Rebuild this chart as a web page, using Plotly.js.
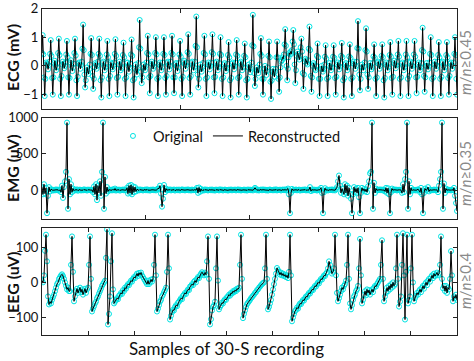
<!DOCTYPE html>
<html><head><meta charset="utf-8">
<script src="https://cdn.plot.ly/plotly-3.0.1.min.js"></script>
<style>html,body{margin:0;padding:0;background:#fff}#chart{width:474px;height:361px}</style>
</head><body><div id="chart"></div>
<script>
// ECG (mV) samples, original signal
const ecgOriginal = [
0.45,1.07,0.4,-0.4,-1.05,-0.45,0.12,0.08,
0.05,-0.12,0.02,0.15,0.42,0.9,0.35,-0.42,-1.0,-0.4,0.1,0.18,
0.02,-0.15,-0.05,0.1,0.45,0.95,0.38,-0.45,-1.05,-0.35,0.05,0.15,
0.08,-0.08,0.0,0.12,0.4,0.87,0.3,-0.4,-1.0,-0.42,0.12,0.2,
0.0,-0.18,-0.06,0.08,0.45,0.95,0.36,-0.5,-1.05,-0.38,0.08,0.12,
0.05,-0.1,0.03,0.15,0.6,1.44,0.55,-0.3,-0.75,-0.5,-0.15,-0.05,
-0.2,-0.28,-0.12,0.05,0.42,0.97,0.38,-0.35,-0.8,-0.45,-0.05,0.1,
0.05,-0.1,0.0,0.15,0.42,0.95,0.35,-0.5,-1.1,-0.4,0.1,0.15,
0.0,-0.15,-0.05,0.1,0.4,0.87,0.3,-0.45,-1.05,-0.35,0.12,0.08,
-0.05,-0.12,0.02,0.12,0.42,0.93,0.35,-0.42,-1.0,-0.38,0.05,0.15,
0.02,-0.15,-0.08,0.1,0.38,0.81,0.3,-0.45,-1.05,-0.4,0.1,0.12,
0.0,-0.2,-0.05,0.08,0.4,0.92,0.35,-0.5,-1.1,-0.45,-0.1,0.05,
-0.15,-0.3,-0.1,0.1,0.65,1.6,0.6,-0.2,-0.6,-0.4,-0.1,0.05,
-0.05,-0.15,0.0,0.12,0.45,1.05,0.4,-0.4,-0.95,-0.35,0.08,0.15,
0.05,-0.1,-0.02,0.1,0.45,1.0,0.4,-0.45,-1.05,-0.4,0.05,0.12,
0.0,-0.15,-0.05,0.12,0.42,1.0,0.38,-0.42,-1.0,-0.35,0.1,0.15,
0.02,-0.12,0.0,0.15,0.45,1.05,0.4,-0.4,-0.95,-0.4,0.05,0.1,
-0.02,-0.18,-0.05,0.1,0.4,0.87,0.32,-0.45,-1.05,-0.38,0.12,0.18,
0.05,-0.1,0.02,0.12,0.48,1.1,0.42,-0.42,-1.0,-0.35,0.1,0.15,
0.0,-0.15,-0.05,0.15,0.7,1.72,0.65,-0.3,-0.75,-0.45,-0.1,0.05,
-0.1,-0.2,-0.05,0.1,0.45,1.05,0.4,-0.45,-1.05,-0.4,0.05,0.12,
0.02,-0.12,0.0,0.12,0.48,1.1,0.42,-0.4,-0.95,-0.38,0.1,0.15,
0.0,-0.15,-0.05,0.1,0.42,1.0,0.38,-0.45,-1.05,-0.4,0.05,0.1,
-0.05,-0.18,-0.08,0.08,0.38,0.83,0.3,-0.5,-1.1,-0.42,0.08,0.12,
0.0,-0.12,0.0,0.12,0.4,0.9,0.35,-0.42,-1.0,-0.38,0.1,0.15,
0.02,-0.15,-0.05,0.1,0.35,0.78,0.3,-0.5,-1.1,-0.45,-0.05,0.05,
-0.1,-0.22,-0.08,0.12,0.72,1.78,0.68,-0.25,-0.7,-0.45,-0.15,-0.05,
-0.15,-0.25,-0.12,0.05,0.42,0.97,0.35,-0.45,-1.0,-0.45,-0.1,0.0,
-0.2,-0.32,-0.18,-0.05,0.35,0.85,0.3,-0.55,-1.15,-0.5,-0.2,-0.1,
-0.25,-0.38,-0.2,-0.1,0.3,0.85,0.3,-0.45,-0.9,-0.4,-0.05,0.15,
0.2,0.3,0.25,0.4,0.75,1.28,0.7,0.0,-0.5,-0.1,0.3,0.45,
0.4,0.5,0.42,0.55,0.85,1.25,0.75,0.05,-0.6,-0.15,0.35,0.5,
0.42,0.3,0.22,0.35,0.65,0.95,0.5,-0.25,-0.8,-0.3,0.15,0.25,
0.2,0.1,0.05,0.2,0.6,1.37,0.55,-0.35,-0.9,-0.4,0.0,0.1,
0.05,-0.1,-0.15,0.0,0.35,0.78,0.3,-0.45,-1.05,-0.45,-0.1,0.0,
-0.1,-0.2,-0.12,0.05,0.32,0.72,0.25,-0.45,-1.05,-0.4,0.0,0.1,
-0.05,-0.15,-0.05,0.1,0.32,0.72,0.28,-0.42,-1.0,-0.38,0.05,0.12,
0.0,-0.12,-0.02,0.1,0.35,0.8,0.3,-0.5,-1.1,-0.42,0.05,0.1,
-0.02,-0.15,-0.05,0.08,0.33,0.75,0.28,-0.45,-1.05,-0.4,0.08,0.15,
0.05,-0.1,0.0,0.15,0.62,1.56,0.6,-0.3,-0.85,-0.45,-0.05,0.05,
-0.05,-0.15,-0.02,0.12,0.55,1.31,0.5,-0.3,-0.8,-0.4,0.0,0.1,
0.0,-0.12,-0.05,0.1,0.33,0.75,0.28,-0.45,-1.05,-0.4,0.1,0.15,
0.05,-0.1,0.0,0.12,0.35,0.75,0.3,-0.5,-1.1,-0.42,0.05,0.12,
0.0,-0.15,-0.05,0.1,0.38,0.83,0.32,-0.42,-1.0,-0.38,0.1,0.18,
0.05,-0.08,0.02,0.15,0.4,0.87,0.32,-0.45,-1.05,-0.4,0.08,0.12,
0.0,-0.15,-0.05,0.1,0.4,0.87,0.3,-0.45,-1.05,-0.35,0.1,0.15,
0.02,-0.1,0.0,0.12,0.4,0.87,0.32,-0.4,-0.95,-0.38,0.05,0.12,
-0.02,-0.15,-0.05,0.1,0.55,1.33,0.5,-0.35,-0.9,-0.4,0.0,0.1,
0.0,-0.12,-0.02,0.12,0.42,1.0,0.38,-0.45,-1.05,-0.4,0.05,0.15,
0.05,-0.1,0.0,0.15,0.38,0.83,0.3,-0.45,-1.05,-0.38,0.1,0.15,
0.0,-0.15,-0.05,0.1,0.38,0.83,0.3,-0.42,-1.0,-0.35,0.08,0.12,
0.02,-0.1,0.0,0.12,0.42,1.0,0.38,-0.45,-1.0
];
// EMG (uV) samples, original signal
const emgOriginal = [
40,-60,80,-50,30,-320,-80,40,-20,10,
5,-8,3,-5,8,-3,6,-10,4,
-30,60,-110,40,120,250,930,-260,150,-60,80,-30,20,-10,
6,-4,8,-10,3,5,-7,2,-5,9,-3,4,-8,6,-2,5,-6,3,
-30,50,-60,80,-140,60,-40,120,-80,250,930,-260,180,-50,40,-20,
8,-5,3,-6,10,-4,20,-8,5,-3,6,-9,4,-2,7,-5,3,-6,
30,-50,60,-40,70,-60,50,-30,40,-20,10,
5,-6,8,-3,4,-7,2,6,-4,9,-5,3,-8,5,-2,7,-4,3,-6,8,20,
20,60,-50,-230,-120,70,-30,20,
-5,6,-3,8,-6,4,-2,7,-8,3,5,-4,6,-7,2,9,-3,4,-6,5,-2,8,-5,3,-7,6,-4,2,5,-3,
30,-40,35,-25,15,-10,
4,-6,8,-3,5,-7,2,6,-4,7,-5,3,-8,6,-2,4,-6,9,-3,5,-7,3,6,-4,2,-8,5,-3,7,-5,4,-2,6,-6,3,8,-4,5,-7,2,-3,6,-5,4,-8,7,-2,5,-4,3,-6,8,
30,10,-5,
5,-7,3,6,-4,8,-2,5,-6,3,-8,4,7,-3,2,-5,6,-4,9,-6,3,-2,5,-7,4,6,-3,8,-5,2,
20,-60,-320,-40,15,
-6,4,-3,7,-5,2,6,-8,3,-4,5,-2,8,-6,3,-5,4,
40,-15,8,
-5,6,-3,4,-8,5,-2,7,
30,-40,-320,-30,25,
-4,6,-7,3,5,-2,8,-5,4,-6,10,
40,120,200,60,-40,20,
-20,-60,80,-40,60,-80,30,-50,-120,-320,-60,40,-30,20,-40,30,-100,-320,-40,30,
-10,15,-20,10,-30,50,120,230,250,930,-260,100,-40,20,
-6,5,-3,8,-4,6,-7,3,-20,30,-40,25,
-60,-320,-30,20,
-5,8,-3,6,-7,4,-2,5,-4,-40,
80,-30,150,250,930,-260,120,-60,30,-10,
6,-5,3,-7,4,8,-4,-30,
30,-60,-320,-40,20,
-5,6,40,-20,5,-6,3,-4,7,-3,5,-2,
-30,60,150,250,930,-260,90,-40,20,
-5,6,-4,3,-6,5,-3,30,-80,-180,-290
];
// EEG (uV) samples, original signal
const eegOriginal = [
5,0,20,90,136,60,-40,-63,-55,
-60,-50,-42,-35,-25,-15,-5,0,10,15,20,23,18,
10,0,-10,-20,-15,-25,
-25,50,131,30,-54,-40,
-25,-18,-30,-22,-15,-28,-20,-35,-25,-18,-30,-20,
-15,50,131,10,-83,-75,
-68,-60,-55,-45,-40,-32,-25,-18,-10,-5,0,
5,70,151,-120,-90,-40,60,140,-20,-60,-55,
-50,-45,-48,-38,-35,-30,-33,-22,-25,-15,-18,-10,-5,-8,0,5,2,10,15,12,20,25,18,27,22,28,20,15,10,5,0,-5,
5,-5,0,8,2,10,50,136,20,-83,-75,
-65,-55,-50,-40,-35,-28,-22,-15,
30,136,40,-106,-95,
-85,-78,-80,-70,-65,-68,-58,-55,-50,-45,-48,-38,-35,-30,-33,-25,-20,-22,-12,-10,-5,-8,2,5,0,10,15,12,20,25,29,
25,20,28,22,60,131,10,-120,-105,-80,-70,-65,-55,40,131,5,-77,-70,
-65,-58,-60,-52,-48,-50,-42,-40,-35,-38,-30,-32,-25,-28,-22,-25,-18,-20,-15,
50,136,10,-102,-90,
-80,-70,-62,-58,-54,-50,-45,-42,-38,-35,-30,-28,-22,-20,-15,-12,-8,-5,-2,0,
40,136,10,-77,-70,
-60,-50,-35,-20,-5,10,25,41,35,30,22,28,20,25,18,22,15,20,12,
30,136,20,-111,-100,
-90,-82,-78,-72,-75,-65,-60,-62,-55,-50,-52,-45,-40,-42,-35,-30,-32,-25,-20,-22,-15,-10,-12,-5,0,-3,5,10,8,15,20,18,25,29,
40,60,50,35,25,30,40,136,20,-30,-54,
-45,-35,-25,-15,-20,-10,-5,5,
50,136,10,-60,-77,
-65,-50,-40,-35,-25,-20,-10,40,124,20,-60,-50,
-35,-25,-37,-20,-30,-22,-35,-25,-20,-28,-15,-10,-12,-5,0,5,10,
50,120,10,-54,-40,
-30,-15,-25,-10,-20,-5,-15,0,-10,-5,
40,136,10,-69,-55,-40,50,140,20,-106,30,136,-60,-50,-40,40,136,0,-54,
-45,-38,-30,-35,-25,-20,-28,-15,-10,-18,-5,0,-8,5,10,2,15,20,12,25,18,22,28,20,25,
50,131,10,-17,-10,
-25,-10,-30,-15,-20,10,89,20,-54,-40,-45,-35,-50
];
// Reconstructed signals overlap the originals in the figure
const ecgReconstructed = ecgOriginal;
const emgReconstructed = emgOriginal;
const eegReconstructed = eegOriginal;

const ecgTicks = [-1, 0, 1, 2];
const emgTicks = [0, 500, 1000];
const eegTicks = [-100, 0, 100];
const ratioLabels = ['<i>m</i>/<i>n</i>≥0.45', '<i>m</i>/<i>n</i>≥0.35', '<i>m</i>/<i>n</i>≥0.4'];
const panelLabels = ['ECG (mV)', 'EMG (uV)', 'EEG (uV)'];

const CYAN = '#00e3e3';
const FONT = 'Lato, "Open Sans", sans-serif';
const idx = a => a.map((_, i) => i);

function orig(y, xa, ya, show) {
  return {x: idx(y), y: y, xaxis: xa, yaxis: ya, type: 'scatter', mode: 'markers',
    name: 'Original', showlegend: show, legendrank: 1,
    marker: {symbol: 'circle-open', size: 5, color: CYAN, line: {width: 1, color: CYAN}}};
}
function rec(y, xa, ya, show) {
  return {x: idx(y), y: y, xaxis: xa, yaxis: ya, type: 'scatter', mode: 'lines',
    name: 'Reconstructed', showlegend: show, legendrank: 2,
    line: {color: '#000', width: 1}};
}
const data = [
  orig(ecgOriginal, 'x', 'y', true), rec(ecgReconstructed, 'x', 'y', true),
  orig(emgOriginal, 'x2', 'y2', false), rec(emgReconstructed, 'x2', 'y2', false),
  orig(eegOriginal, 'x3', 'y3', false), rec(eegReconstructed, 'x3', 'y3', false)
];

function xax(n, parts, anchor) {
  const tv = [];
  for (let k = 1; k < parts; k++) tv.push((n - 1) * k / parts);
  return {domain: [0, 1], anchor: anchor, range: [0, n - 1], showgrid: false, zeroline: false,
    showline: true, mirror: 'ticks', linecolor: '#222', linewidth: 1, ticks: 'inside', ticklen: 4,
    tickcolor: '#222', tickmode: 'array', tickvals: tv, showticklabels: false};
}
function yax(dom, range, tv, anchor) {
  return {domain: dom, anchor: anchor, range: range, showgrid: false, zeroline: false,
    showline: true, mirror: 'ticks', linecolor: '#222', linewidth: 1, ticks: 'inside', ticklen: 4,
    tickcolor: '#222', tickmode: 'array', tickvals: tv, ticklabeloverflow: 'allow',
    tickfont: {family: FONT, size: 13, color: '#111'}};
}
const H = 361;
const fy = p => 1 - p / H;
const fx = p => (p - 42) / 415;
function ann(text, px, py, angle, size, color) {
  return {text: text, xref: 'paper', yref: 'paper', x: fx(px), y: fy(py), xanchor: 'center', yanchor: 'middle',
    textangle: angle, showarrow: false, font: {family: FONT, size: size, color: color}};
}
const layout = {
  width: 474, height: 361, margin: {l: 42, r: 17, t: 0, b: 0},
  paper_bgcolor: '#fff', plot_bgcolor: '#fff', font: {family: FONT, color: '#111'},
  xaxis: xax(ecgOriginal.length, 3, 'y'),
  yaxis: yax([fy(109), fy(8.5)], [-1.5, 2], ecgTicks, 'x'),
  xaxis2: xax(emgOriginal.length, 4, 'y2'),
  yaxis2: yax([fy(219), fy(117.5)], [-400, 1000], emgTicks, 'x2'),
  xaxis3: xax(eegOriginal.length, 9, 'y3'),
  yaxis3: yax([fy(335), fy(228)], [-150, 155], eegTicks, 'x3'),
  showlegend: true,
  legend: {orientation: 'h', x: 0.171, y: fy(136), xanchor: 'left', yanchor: 'middle',
    bgcolor: 'rgba(0,0,0,0)', font: {family: FONT, size: 14.5, color: '#111'}, itemsizing: 'trace'},
  annotations: [
    ann('<b>' + panelLabels[0] + '</b>', 12, 58, -90, 16, '#111'),
    ann('<b>' + panelLabels[1] + '</b>', 12, 168, -90, 16, '#111'),
    ann('<b>' + panelLabels[2] + '</b>', 12, 282, -90, 16, '#111'),
    ann(ratioLabels[0], 465, 62, -90, 15, '#8a8a8a'),
    ann(ratioLabels[1], 465, 173, -90, 15, '#8a8a8a'),
    ann(ratioLabels[2], 465, 281, -90, 15, '#8a8a8a'),
    ann('Samples of 30-S recording', 226, 348, 0, 17, '#111')
  ]
};
Plotly.newPlot('chart', data, layout, {staticPlot: true, displayModeBar: false});
</script></body></html>
